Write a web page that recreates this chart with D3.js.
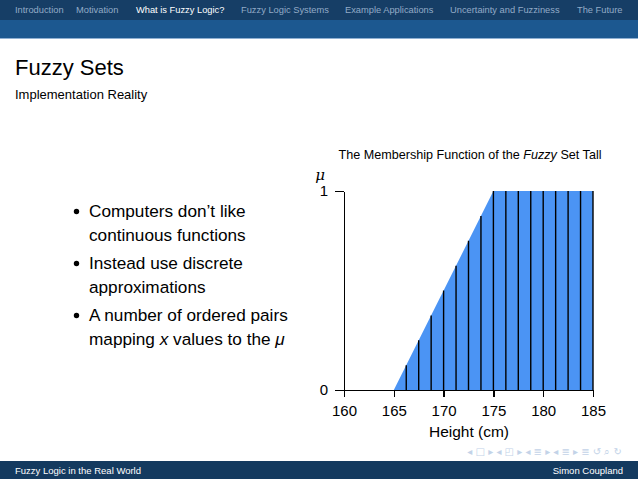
<!DOCTYPE html>
<html lang="en">
<head>
<meta charset="UTF-8">
<title>Fuzzy Sets - Implementation Reality</title>
<script src="https://d3js.org/d3.v7.min.js"></script>
<style>
    body { margin: 0; background: #fff; }
    svg { display: block; font-family: "Liberation Sans", Arial, Helvetica, sans-serif; }
    .axis path, .axis line { stroke: #000; stroke-width: 1.3px; shape-rendering: crispEdges; }
    .axis text { font-family: "Liberation Sans", Arial, sans-serif; font-size: 15px; fill: #000; }
</style>
</head>
<body>
<svg id="slide" width="638" height="479"></svg>
<script>
// navigation sections of the slide header
const sections = ["Introduction", "Motivation", "What is Fuzzy Logic?", "Fuzzy Logic Systems",
    "Example Applications", "Uncertainty and Fuzziness", "The Future"];
const sectionX = [15, 76, 136, 241, 345, 450, 577];
const activeSection = "What is Fuzzy Logic?";

const bullets = [
    ["Computers don\u2019t like", "continuous functions"],
    ["Instead use discrete", "approximations"],
    ["A number of ordered pairs", "mapping |x| values to the |\u03bc|"]
];

// membership function of the fuzzy set Tall (continuous shape)
const shapeHeight = [165, 175, 185];
const shapeMu = [0, 1, 1];
// discrete samples
const sampleHeight = [166.25, 167.5, 168.75, 170, 171.25, 172.5, 173.75, 175,
    176.25, 177.5, 178.75, 180, 181.25, 182.5, 183.75, 185];
const sampleMu = [0.125, 0.25, 0.375, 0.5, 0.625, 0.75, 0.875, 1,
    1, 1, 1, 1, 1, 1, 1, 1];
const xTicks = [160, 165, 170, 175, 180, 185];
const yTicks = [0, 1];

const svg = d3.select("#slide");

// header bars
svg.append("rect").attr("x", 0).attr("y", 0).attr("width", 638).attr("height", 20).attr("fill", "#163e66");
svg.append("rect").attr("x", 0).attr("y", 20).attr("width", 638).attr("height", 18).attr("fill", "#1c5890");
svg.append("rect").attr("x", 0).attr("y", 38).attr("width", 638).attr("height", 1).attr("fill", "#8fb0d3");

svg.selectAll(".nav")
    .data(sections)
    .enter().append("text")
    .attr("class", "nav")
    .attr("x", (d, i) => sectionX[i])
    .attr("y", 13)
    .attr("font-size", "9.3px")
    .attr("fill", d => d === activeSection ? "#ffffff" : "#93abc6")
    .text(d => d);

// footer
svg.append("rect").attr("x", 0).attr("y", 461).attr("width", 638).attr("height", 18).attr("fill", "#143a5f");
svg.append("text").attr("x", 15).attr("y", 474).attr("font-size", "9.5px").attr("fill", "#fff")
    .text("Fuzzy Logic in the Real World");
svg.append("text").attr("x", 623).attr("y", 474).attr("font-size", "9.5px").attr("fill", "#fff")
    .attr("text-anchor", "end").text("Simon Coupland");

// beamer navigation symbols
svg.append("text").attr("x", 622).attr("y", 455).attr("text-anchor", "end")
    .attr("font-family", "DejaVu Sans").attr("font-size", "10px").attr("fill", "#c3d3e8")
    .text("\u25c2 \u25a1 \u25b8  \u25c2 \u25f0 \u25b8  \u25c2 \u2263 \u25b8  \u25c2 \u2263 \u25b8    \u2263    \u21ba \u2315 \u21bb");

// frame title
svg.append("text").attr("x", 15).attr("y", 75).attr("font-size", "22px").attr("fill", "#000").text("Fuzzy Sets");
svg.append("text").attr("x", 15).attr("y", 99).attr("font-size", "13px").attr("fill", "#000").text("Implementation Reality");

// bullets
const bulletTop = [217, 269, 321];
bullets.forEach((lines, i) => {
    svg.append("circle").attr("cx", 76.5).attr("cy", bulletTop[i] - 5.5).attr("r", 2.7).attr("fill", "#000");
    lines.forEach((line, j) => {
        const t = svg.append("text").attr("x", 89).attr("y", bulletTop[i] + j * 23.5)
            .attr("font-size", "17.2px").attr("fill", "#000");
        line.split("|").forEach((part, k) => {
            t.append("tspan").attr("font-style", k % 2 ? "italic" : null)
                .text(part);
        });
    });
});

// chart
const x = d3.scaleLinear().domain([160, 185]).range([344, 593]);
const y = d3.scaleLinear().domain([0, 1]).range([390, 191]);

svg.append("path")
    .datum(shapeHeight.map((h, i) => ({ h: h, mu: shapeMu[i] })))
    .attr("fill", "#4b94f4")
    .attr("d", d3.area().x(d => x(d.h)).y0(y(0)).y1(d => y(d.mu)));

svg.selectAll(".sample")
    .data(sampleHeight.map((h, i) => ({ h: h, mu: sampleMu[i] })))
    .enter().append("line")
    .attr("class", "sample")
    .attr("x1", d => x(d.h)).attr("x2", d => x(d.h))
    .attr("y1", y(0)).attr("y2", d => y(d.mu))
    .attr("stroke", "#000").attr("stroke-width", 1.4);

svg.append("g").attr("class", "axis")
    .attr("transform", `translate(0, ${y(0)})`)
    .call(d3.axisBottom(x).tickValues(xTicks).tickSize(7).tickSizeOuter(0).tickPadding(8).tickFormat(d3.format("d")));

svg.append("g").attr("class", "axis")
    .attr("transform", `translate(${x(160)}, 0)`)
    .call(d3.axisLeft(y).tickValues(yTicks).tickSize(9).tickSizeOuter(0).tickPadding(7).tickFormat(d3.format("d")));

svg.append("text").attr("x", 469).attr("y", 437).attr("text-anchor", "middle")
    .attr("font-size", "15.5px").text("Height (cm)");

svg.append("text").attr("x", 320).attr("y", 180).attr("text-anchor", "middle")
    .attr("font-family", "DejaVu Serif").attr("font-style", "italic").attr("font-size", "15px").text("\u03bc");

const title = svg.append("text").attr("x", 470).attr("y", 159).attr("text-anchor", "middle").attr("font-size", "12.6px");
title.append("tspan").text("The Membership Function of the ");
title.append("tspan").attr("font-style", "italic").text("Fuzzy");
title.append("tspan").text(" Set Tall");
</script>
</body>
</html>
